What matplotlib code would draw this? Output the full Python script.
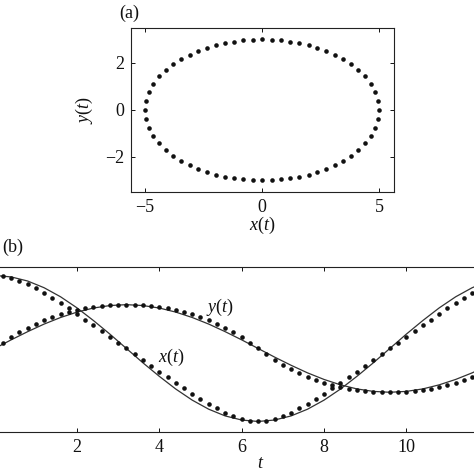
import numpy as np
import matplotlib
matplotlib.use('Agg')
from matplotlib import pyplot as plt

# measured trajectory, one sample every 0.2 time units
x_data = [5.00, 4.96, 4.83, 4.64, 4.39, 4.11, 3.79, 3.46, 3.10, 2.74, 2.36, 1.98, 1.59, 1.19, 0.80, 0.40, 0.00,
          -0.40, -0.80, -1.19, -1.59, -1.98, -2.36, -2.74, -3.10, -3.46, -3.79, -4.11, -4.39, -4.64, -4.83, -4.96, -5.00,
          -4.96, -4.83, -4.64, -4.39, -4.11, -3.79, -3.46, -3.10, -2.74, -2.36, -1.98, -1.59, -1.19, -0.80, -0.40, 0.00,
          0.40, 0.80, 1.19, 1.59, 1.98, 2.36, 2.74, 3.10, 3.46, 3.79, 4.11, 4.39, 4.64, 4.83, 4.96]
y_data = [0.00, 0.39, 0.77, 1.12, 1.43, 1.71, 1.96, 2.17, 2.35, 2.51, 2.65, 2.76, 2.85, 2.91, 2.96, 2.99, 3.00,
          2.99, 2.96, 2.91, 2.85, 2.76, 2.65, 2.51, 2.35, 2.17, 1.96, 1.71, 1.43, 1.12, 0.77, 0.39, 0.00,
          -0.39, -0.77, -1.12, -1.43, -1.71, -1.96, -2.17, -2.35, -2.51, -2.65, -2.76, -2.85, -2.91, -2.96, -2.99, -3.00,
          -2.99, -2.96, -2.91, -2.85, -2.76, -2.65, -2.51, -2.35, -2.17, -1.96, -1.71, -1.43, -1.12, -0.77, -0.39]
t_step = 0.2

# fitted model curves, one value every 0.4 time units
x_model = [5.00, 4.90, 4.62, 4.16, 3.54, 2.78, 1.91, 0.98, 0.00, -0.98, -1.91, -2.78, -3.54, -4.16, -4.62, -4.90,
           -5.00, -4.90, -4.62, -4.16, -3.54, -2.78, -1.91, -0.98, 0.00, 0.98, 1.91, 2.78, 3.54, 4.16, 4.62, 4.90, 5.00]
y_model = [0.00, 0.59, 1.15, 1.67, 2.12, 2.49, 2.77, 2.94, 3.00, 2.94, 2.77, 2.49, 2.12, 1.67, 1.15, 0.59,
           0.00, -0.59, -1.15, -1.67, -2.12, -2.49, -2.77, -2.94, -3.00, -2.94, -2.77, -2.49, -2.12, -1.67, -1.15, -0.59, 0.00]
t_model_step = 0.4

t_ticks = [2, 4, 6, 8, 10]

t = np.arange(len(x_data)) * t_step
t_model = np.arange(len(x_model)) * t_model_step

plt.rcParams['font.family'] = ['Liberation Serif', 'DejaVu Serif']
plt.rcParams['mathtext.fontset'] = 'custom'
plt.rcParams['mathtext.rm'] = 'Liberation Serif'
plt.rcParams['mathtext.it'] = 'Liberation Serif:italic'
plt.rcParams['axes.linewidth'] = 0.8
plt.rcParams['axes.edgecolor'] = '#222222'

FS = 13
INK = '#111111'
LINE = '#333333'
MS = 3.3

fig = plt.figure(figsize=(4.74, 4.74), dpi=100)

# (a) phase portrait
ax = fig.add_axes([131 / 474, 1 - 192 / 474, 263 / 474, 164.3 / 474])
ax.plot(x_data, y_data, 'o', color=INK, markersize=MS, markeredgewidth=0)
ax.set_xlim(-5.6, 5.63)
ax.set_ylim(-3.5, 3.5)
ax.set_xticks([-5, 0, 5])
ax.set_yticks([-2, 0, 2])
ax.tick_params(direction='in', top=True, right=True, length=3, width=0.7,
               labelsize=FS, pad=5, colors=INK)
ax.set_xlabel('$x(t)$', fontsize=FS, color=INK)
ax.xaxis.set_label_coords(0.5, -0.14)
ax.set_ylabel('$y(t)$', fontsize=FS, color=INK)
ax.yaxis.set_label_coords(-0.135, 0.5)
fig.text(129 / 474, 1 - 13 / 474, '(a)', fontsize=FS, ha='center', va='center', color=INK)

# (b) time series; the figure crops this panel on both sides
ax1 = fig.add_axes([-5.3 / 474, 1 - 431.7 / 474, 12.6 * 41.16 / 474, 165 / 474])
ax1.plot(t_model, x_model, '-', color=LINE, linewidth=0.9)
ax1.plot(t_model, y_model, '-', color=LINE, linewidth=0.9)
ax1.plot(t, x_data, 'o', color=INK, markersize=MS, markeredgewidth=0)
ax1.plot(t, y_data, 'o', color=INK, markersize=MS, markeredgewidth=0)
ax1.set_xlim(0, 12.6)
ax1.set_ylim(-5.7, 5.6)
ax1.set_xticks(t_ticks)
ax1.set_yticks([])
ax1.tick_params(direction='in', top=True, right=True, length=3, width=0.7,
                labelsize=FS, pad=5, colors=INK)
ax1.set_xlabel('$t$', fontsize=FS, color=INK)
ax1.xaxis.set_label_coords((261 + 5.3) / (12.6 * 41.16), -0.14)
ax1.text(5.47, 2.84, '$y(t)$', fontsize=FS, ha='center', va='center', color=INK)
ax1.text(4.28, -0.58, '$x(t)$', fontsize=FS, ha='center', va='center', color=INK)
fig.text(13 / 474, 1 - 247 / 474, '(b)', fontsize=FS, ha='center', va='center', color=INK)

fig.savefig('out.png', dpi=100)
